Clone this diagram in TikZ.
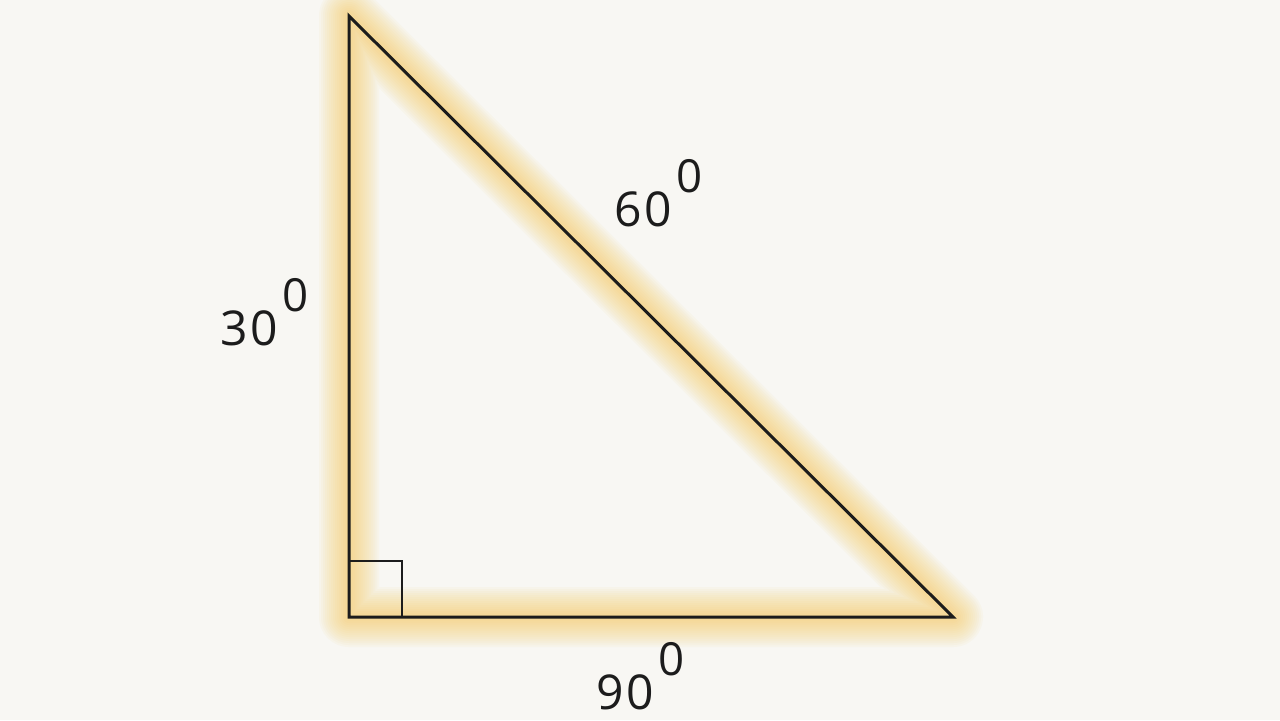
\documentclass[tikz,border=0pt]{standalone}
\usepackage{fontspec}
\setmainfont{Open Sans}
\usetikzlibrary{calc}

\definecolor{paper}{RGB}{248,247,243}
\definecolor{glow}{RGB}{245,200,80}
\definecolor{ink}{RGB}{28,28,28}

\newcommand*{\degmark}{\hspace{0.08em}\raisebox{0.7em}{\scalebox{0.95}{0}}}

\begin{document}
\begin{tikzpicture}[x=0.5pt,y=-0.5pt,
		edge/.style={line width=1.5pt,draw=ink},
		halo/.style={line width=#1pt,draw=glow,opacity=0.05,line join=round,line cap=round},
		deg/.style={anchor=base west,inner sep=0pt,text=ink,font=\fontsize{24}{28}\selectfont\addfontfeature{LetterSpace=6}},
]

\def\sqw{53}
\def\sqh{56}

\fill[paper] (0,0) rectangle (1280,720);
\useasboundingbox (0,0) rectangle (1280,720);

\coordinate (A) at (349,16);
\coordinate (B) at (349,617);
\coordinate (C) at (953,617);

% yellow glow round the sides
\foreach \w in {2,4,...,30}
	\draw[halo=\w] (A) -- (B) -- (C) -- cycle;

\draw[edge] (A) -- (B) -- (C) -- cycle;
\draw[edge,line width=1.3pt] ($(B)+(0,-\sqh)$) -| ($(B)+(\sqw,0)$);

\node[deg] (a30) at (220,345) {30\degmark};
\node[deg] (a60) at (614,226) {60\degmark};
\node[deg] (a90) at (596,709) {90\degmark};

\end{tikzpicture}
\end{document}
